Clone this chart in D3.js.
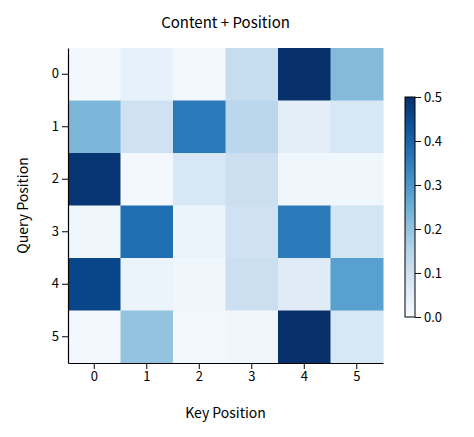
<!DOCTYPE html><html><head><meta charset="utf-8"><script src="https://cdn.jsdelivr.net/npm/d3@7"></script>
<style>body{margin:0;background:#fff}text{font-family:"Noto Sans CJK KR","Noto Sans",sans-serif;fill:#000}</style></head><body><svg width="474" height="437"></svg><script>
const title="Content + Position";
const keys=[0,1,2,3,4,5], queries=[0,1,2,3,4,5];
const values=[
[0.01,0.04,0.01,0.12,0.50,0.22],
[0.23,0.10,0.36,0.14,0.05,0.08],
[0.49,0.01,0.08,0.11,0.02,0.02],
[0.02,0.38,0.03,0.10,0.36,0.09],
[0.46,0.03,0.02,0.11,0.06,0.28],
[0.01,0.20,0.01,0.02,0.50,0.08]];
const cbTicks=[0,0.1,0.2,0.3,0.4,0.5];
const svg=d3.select("svg");
const L=68,T=48,S=315;
const x=d3.scaleBand().domain(keys).range([L,L+S]);
const y=d3.scaleBand().domain(queries).range([T,T+S]);
const c=v=>d3.interpolateBlues(Math.min(1,v/0.5));
values.forEach((r,i)=>r.forEach((v,j)=>svg.append("rect").attr("x",x(j)).attr("y",y(i)).attr("width",x.bandwidth()+0.5).attr("height",y.bandwidth()+0.5).attr("fill",c(v))));
const ax=svg.append("g").attr("transform",`translate(0,${T+S})`).call(d3.axisBottom(x).tickSizeOuter(0));
const ay=svg.append("g").attr("transform",`translate(${L},0)`).call(d3.axisLeft(y).tickSizeOuter(0));
[ax,ay].forEach(a=>{a.selectAll("text").style("font-size","13px");a.select(".domain").attr("stroke","#000").attr("stroke-width",1.2);});
svg.append("text").attr("x",L+S/2).attr("y",28).attr("text-anchor","middle").style("font-size","15px").text(title);
svg.append("text").attr("x",L+S/2).attr("y",418).attr("text-anchor","middle").style("font-size","14px").text("Key Position");
svg.append("text").attr("transform",`translate(28,${T+S/2}) rotate(-90)`).attr("text-anchor","middle").style("font-size","14px").text("Query Position");
const cy=d3.scaleLinear().domain([0,0.5]).range([317,97]);
const defs=svg.append("defs").append("linearGradient").attr("id","g").attr("x1",0).attr("x2",0).attr("y1",1).attr("y2",0);
d3.range(0,1.01,0.1).forEach(t=>defs.append("stop").attr("offset",t).attr("stop-color",d3.interpolateBlues(t)));
svg.append("rect").attr("x",405).attr("y",97).attr("width",10).attr("height",220).attr("fill","url(#g)").attr("stroke","#000").attr("stroke-width",1);
const ac=svg.append("g").attr("transform","translate(415,0)").call(d3.axisRight(cy).tickValues(cbTicks).tickFormat(d3.format(".1f")).tickSizeOuter(0));
ac.select(".domain").remove();ac.selectAll("text").style("font-size","13px");
</script></body></html>
